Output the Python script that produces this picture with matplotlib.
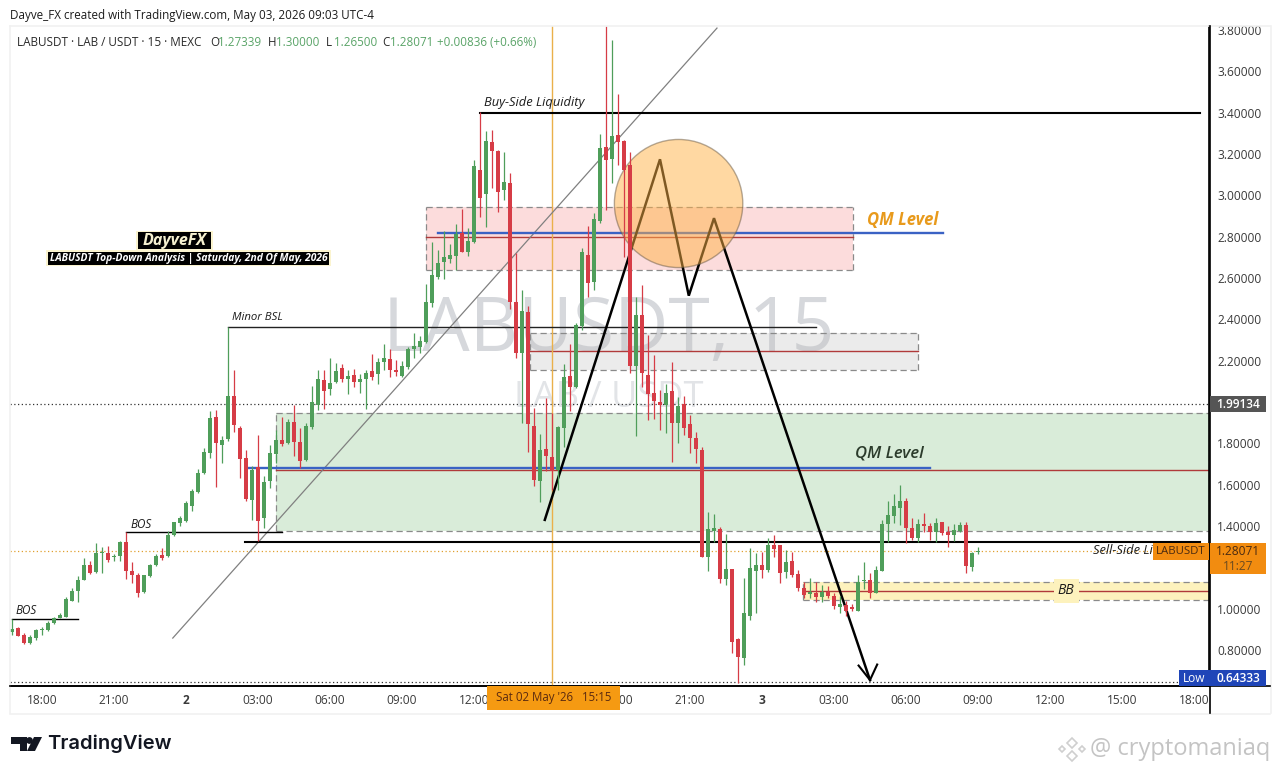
import matplotlib
matplotlib.use('Agg')
import matplotlib.pyplot as plt
from matplotlib.patches import Rectangle, Ellipse, Polygon, Circle

plt.rcParams['font.family'] = ['Open Sans', 'DejaVu Sans']

W, H = 1281, 774
GREEN = '#4f9e5a'
RED = '#d63c46'

# 15 minute bars, bar 0 is 18:00 on May 1
first_bar = -5
opens = [0.889, 0.905, 0.874, 0.832, 0.858, 0.895, 0.895, 0.929, 0.956, 0.961,
         1.039, 1.087, 1.140, 1.211, 1.176, 1.268, 1.271, 1.248, 1.253, 1.321,
         1.184, 1.164, 1.079, 1.160, 1.213, 1.261, 1.253, 1.355, 1.416, 1.426,
         1.495, 1.563, 1.655, 1.756, 1.929, 1.793, 1.822, 2.031, 1.876, 1.731,
         1.524, 1.685, 1.437, 1.619, 1.750, 1.818, 1.802, 1.905, 1.808, 1.719,
         1.881, 1.987, 2.108, 2.065, 2.095, 2.165, 2.110, 2.132, 2.095, 2.111,
         2.152, 2.136, 2.192, 2.208, 2.156, 2.127, 2.169, 2.256, 2.269, 2.292,
         2.481, 2.603, 2.676, 2.694, 2.705, 2.818, 2.727, 2.773, 3.124, 3.008,
         3.260, 3.216, 3.027, 3.060, 2.486, 2.239, 2.437, 1.886, 1.619, 1.774,
         1.736, 1.673, 1.876, 2.127, 2.074, 2.369, 2.713, 2.582, 2.878, 3.236,
         3.178, 3.294, 3.265, 3.149, 2.176, 2.423, 2.132, 2.045, 2.002, 1.987,
         2.055, 1.900, 1.992, 1.895, 1.827, 1.769, 1.252, 1.377, 1.387, 1.145,
         1.194, 0.855, 0.763, 0.966, 1.184, 1.213, 1.189, 1.310, 1.310, 1.179,
         1.232, 1.169, 1.102, 1.073, 1.077, 1.058, 1.082, 1.063, 1.010, 1.019,
         1.005, 0.990, 1.135, 1.140, 1.077, 1.184, 1.411, 1.450, 1.489, 1.523,
         1.392, 1.344, 1.411, 1.402, 1.373, 1.421, 1.373, 1.358, 1.377, 1.406,
         1.203, 1.273]
highs = [0.950, 0.914, 0.882, 0.874, 0.901, 0.911, 0.939, 0.960, 0.979, 1.056,
         1.100, 1.156, 1.245, 1.229, 1.318, 1.301, 1.305, 1.266, 1.326, 1.369,
         1.226, 1.172, 1.164, 1.218, 1.266, 1.293, 1.374, 1.422, 1.450, 1.519,
         1.579, 1.676, 1.777, 1.955, 1.963, 1.834, 2.363, 2.154, 1.882, 1.769,
         1.692, 1.842, 1.640, 1.790, 1.863, 1.926, 1.918, 1.987, 1.874, 1.898,
         2.076, 2.156, 2.156, 2.213, 2.189, 2.185, 2.156, 2.160, 2.137, 2.156,
         2.234, 2.213, 2.282, 2.256, 2.205, 2.197, 2.269, 2.334, 2.318, 2.573,
         2.776, 2.737, 2.826, 2.765, 2.863, 2.934, 2.842, 3.173, 3.406, 3.310,
         3.318, 3.220, 3.210, 3.108, 2.723, 2.544, 2.466, 1.973, 1.847, 2.021,
         1.948, 1.886, 2.186, 2.282, 2.384, 2.747, 2.853, 2.916, 3.299, 3.821,
         3.753, 3.492, 3.270, 3.211, 2.510, 2.568, 2.326, 2.229, 2.060, 2.089,
         2.195, 2.026, 2.031, 1.939, 1.857, 1.784, 1.469, 1.460, 1.397, 1.363,
         1.194, 0.860, 1.150, 1.295, 1.271, 1.276, 1.344, 1.358, 1.310, 1.286,
         1.276, 1.189, 1.131, 1.150, 1.131, 1.116, 1.111, 1.077, 1.063, 1.039,
         1.024, 1.165, 1.227, 1.174, 1.208, 1.431, 1.523, 1.556, 1.600, 1.537,
         1.440, 1.436, 1.465, 1.416, 1.440, 1.421, 1.402, 1.411, 1.421, 1.421,
         1.276, 1.300]
lows = [0.872, 0.866, 0.829, 0.829, 0.850, 0.874, 0.890, 0.926, 0.953, 0.960,
        1.035, 1.031, 1.137, 1.169, 1.172, 1.172, 1.227, 1.229, 1.229, 1.145,
        1.124, 1.056, 1.076, 1.153, 1.208, 1.237, 1.250, 1.350, 1.398, 1.422,
        1.471, 1.560, 1.652, 1.729, 1.589, 1.705, 1.810, 1.853, 1.635, 1.519,
        1.431, 1.326, 1.393, 1.584, 1.705, 1.789, 1.798, 1.740, 1.679, 1.716,
        1.871, 1.960, 1.966, 2.035, 2.092, 2.095, 2.040, 2.073, 2.044, 1.966,
        2.108, 2.089, 2.153, 2.121, 2.124, 2.121, 2.160, 2.215, 2.237, 2.285,
        2.461, 2.597, 2.597, 2.673, 2.640, 2.724, 2.705, 2.769, 2.895, 2.845,
        3.035, 2.919, 2.979, 2.452, 2.215, 1.900, 1.760, 1.595, 1.518, 1.668,
        1.576, 1.576, 1.784, 1.958, 2.069, 2.350, 2.510, 2.544, 2.868, 2.931,
        3.061, 3.149, 2.703, 2.142, 1.837, 2.074, 1.915, 1.919, 1.866, 1.852,
        1.711, 1.803, 1.842, 1.755, 1.706, 1.252, 1.184, 1.324, 1.126, 1.116,
        0.787, 0.642, 0.729, 0.947, 0.981, 1.150, 1.179, 1.252, 1.126, 1.150,
        1.155, 1.087, 1.053, 1.053, 1.034, 1.034, 1.053, 1.000, 0.981, 0.966,
        0.990, 0.990, 1.097, 1.053, 1.077, 1.184, 1.324, 1.416, 1.406, 1.319,
        1.334, 1.324, 1.373, 1.334, 1.324, 1.358, 1.300, 1.329, 1.373, 1.174,
        1.184, 1.265]
closes = [0.902, 0.869, 0.832, 0.863, 0.895, 0.900, 0.930, 0.955, 0.969, 1.048,
          1.087, 1.140, 1.213, 1.172, 1.269, 1.272, 1.235, 1.253, 1.321, 1.181,
          1.161, 1.076, 1.161, 1.210, 1.256, 1.247, 1.358, 1.419, 1.437, 1.510,
          1.568, 1.658, 1.758, 1.924, 1.800, 1.818, 2.031, 1.887, 1.727, 1.531,
          1.672, 1.426, 1.614, 1.753, 1.818, 1.798, 1.905, 1.808, 1.716, 1.885,
          2.000, 2.113, 2.056, 2.092, 2.152, 2.113, 2.126, 2.095, 2.113, 2.140,
          2.123, 2.195, 2.214, 2.153, 2.144, 2.174, 2.258, 2.273, 2.294, 2.486,
          2.616, 2.674, 2.702, 2.713, 2.815, 2.727, 2.779, 3.144, 2.990, 3.265,
          3.213, 3.019, 3.066, 2.486, 2.239, 2.442, 1.895, 1.624, 1.769, 1.740,
          1.668, 1.881, 2.123, 2.074, 2.374, 2.728, 2.578, 2.887, 3.231, 3.173,
          3.289, 3.260, 3.124, 2.176, 2.423, 2.142, 2.040, 2.007, 1.987, 2.045,
          1.900, 1.982, 1.876, 1.827, 1.774, 1.252, 1.387, 1.392, 1.145, 1.194,
          0.840, 0.768, 0.981, 1.198, 1.213, 1.189, 1.310, 1.290, 1.174, 1.227,
          1.165, 1.102, 1.068, 1.077, 1.058, 1.082, 1.063, 1.015, 1.024, 0.990,
          1.000, 1.131, 1.140, 1.077, 1.189, 1.411, 1.455, 1.498, 1.523, 1.392,
          1.344, 1.411, 1.402, 1.373, 1.416, 1.368, 1.358, 1.382, 1.406, 1.208,
          1.271, 1.281]

# 2.0 and 1.2 sit behind the price tags in the original, so they are left out
price_ticks = [3.8, 3.6, 3.4, 3.2, 3.0, 2.8, 2.6, 2.4, 2.2, 1.8, 1.6, 1.4, 1.0, 0.8]
time_ticks = [0, 12, 24, 36, 48, 60, 72, 96, 108, 120, 132, 144, 156, 168, 180, 192]
time_labels = ['18:00', '21:00', '2', '03:00', '06:00', '09:00', '12:00', '18:00',
               '21:00', '3', '03:00', '06:00', '09:00', '12:00', '15:00', '18:00']

last_price = 1.28071
marker_price = 1.99134
low_price = 0.64333
crosshair_bar = 85

fig = plt.figure(figsize=(W / 100, H / 100), dpi=100, facecolor='white')
ax = fig.add_axes([10 / W, (H - 685.5) / H, 1199 / W, 659.5 / H])
ax.set_xlim(-5.33, 194.5)
ax.set_ylim(0.6285, 3.82)

for s in ['top', 'left']:
    ax.spines[s].set_visible(False)
ax.spines['right'].set_linewidth(1.2)
ax.spines['bottom'].set_linewidth(1.2)
ax.yaxis.tick_right()
ax.set_yticks(price_ticks)
ax.set_yticklabels(['%.5f' % p for p in price_ticks], fontsize=8.6, color='#3a3a3a')
ax.set_xticks(time_ticks)
ax.set_xticklabels(time_labels, fontsize=8.6, color='#3a3a3a')
for lab in ax.get_xticklabels():
    if lab.get_text() in ('2', '3'):
        lab.set_fontweight('bold')
ax.tick_params(axis='both', length=0, pad=6)


# watermark sits under everything
ax.text(94.5, 2.34, 'LABUSDT, 15', fontsize=54, fontweight='medium', color='#d6d8dc', ha='center', va='center', zorder=1)
ax.text(94.5, 2.02, 'LAB / USDT', fontsize=26, color='#e2e4e7', ha='center', va='center', zorder=1)


def zone(x0, x1, top, bottom, mid, fill, alpha=1.0):
    ax.add_patch(Rectangle((x0, bottom), x1 - x0, top - bottom, facecolor=fill, edgecolor='none',
                           alpha=alpha, zorder=2))
    ax.plot([x0, x1], [top, top], color='#8a8a8a', lw=0.9, ls=(0, (5, 3)), zorder=2.1)
    ax.plot([x0, x1], [bottom, bottom], color='#8a8a8a', lw=0.9, ls=(0, (5, 3)), zorder=2.1)
    ax.plot([x0, x0], [bottom, top], color='#8a8a8a', lw=0.9, ls=(0, (5, 3)), zorder=2.1)
    ax.plot([x1, x1], [bottom, top], color='#8a8a8a', lw=0.9, ls=(0, (5, 3)), zorder=2.1)
    ax.plot([x0, x1], [mid, mid], color='#b03a3a', lw=1.0, zorder=2.2)


zone(64, 135.2, 2.945, 2.640, 2.797, '#fcdcdc')
zone(81.3, 146, 2.335, 2.155, 2.245, '#bdbdbd', alpha=0.3)
zone(39, 194.5, 1.948, 1.375, 1.672, '#d9ecd9')
zone(126.8, 194.5, 1.130, 1.040, 1.086, '#fdf2bd')

# dotted levels
ax.plot([-5.33, 194.5], [marker_price] * 2, color='#333333', lw=0.9, ls=(0, (1, 2)), zorder=2.5)
ax.plot([-5.33, 194.5], [low_price] * 2, color='#333333', lw=0.9, ls=(0, (1, 2)), zorder=2.5)
ax.plot([-5.33, 194.5], [last_price] * 2, color='#e0a030', lw=0.9, ls=(0, (1, 2)), zorder=2.5)

ax.axvline(crosshair_bar, color='#eab04a', lw=1.0, zorder=2.6)

# trend line and structure lines
ax.plot([21.8, 112.5], [0.858, 3.81], color='#808080', lw=0.9, zorder=3)
ax.plot([73, 193], [3.40, 3.40], color='black', lw=1.5, zorder=3)
ax.plot([33.8, 193], [1.322, 1.322], color='black', lw=1.5, zorder=3)
ax.plot([31, 129], [2.363, 2.363], color='#222222', lw=1.0, zorder=3)
ax.plot([-5, 6], [0.950, 0.950], color='black', lw=1.0, zorder=3)
ax.plot([14, 40], [1.369, 1.369], color='black', lw=1.0, zorder=3)
ax.plot([66, 150.2], [2.82, 2.82], color='#3a62c4', lw=1.7, zorder=3)
ax.plot([34.5, 148], [1.682, 1.682], color='#3a62c4', lw=1.7, zorder=3)

# projected move
ax.plot([83.8, 103, 107.8, 112, 138], [1.430, 3.175, 2.515, 2.890, 0.655],
        color='black', lw=1.8, zorder=3, solid_joinstyle='miter')
ax.plot([136.1, 138, 139.2], [0.725, 0.655, 0.730], color='black', lw=1.5, zorder=3,
        solid_joinstyle='miter')

ax.add_patch(Ellipse((106.1, 2.961), 21.4, 0.62, facecolor='#ffb347', alpha=0.5,
                     edgecolor='#6a5a45', lw=1.0, zorder=4))

# candles
for k in range(len(opens)):
    x = first_bar + k
    o, h, l, c = opens[k], highs[k], lows[k], closes[k]
    col = GREEN if c >= o else RED
    ax.plot([x, x], [l, h], color=col, lw=0.9, zorder=5, solid_capstyle='butt')
    ax.add_patch(Rectangle((x - 0.4, min(o, c)), 0.8, max(abs(c - o), 0.006), facecolor=col,
                           edgecolor='none', zorder=5.1))

# drawing labels
note = dict(style='italic', color='#1c1c1c', zorder=6, va='center', ha='left', fontweight='medium')
ax.text(73.7, 3.452, 'Buy-Side Liquidity', fontsize=9.3, **note)
ax.text(31.7, 2.41, 'Minor BSL', fontsize=8.2, **note)
ax.text(-4.4, 0.993, 'BOS', fontsize=8.4, **note)
ax.text(14.7, 1.408, 'BOS', fontsize=8.4, **note)
ax.text(175.2, 1.281, 'Sell-Side Liquidity', fontsize=9.3, **note)
ax.text(170.7, 1.086, 'BB', fontsize=10, ha='center', va='center', style='italic', color='#1c1c1c', zorder=6,
        fontweight='medium', bbox=dict(facecolor='#fdf2bd', edgecolor='none', pad=3))
ax.text(137.5, 2.882, 'QM Level', fontsize=12, style='italic', fontweight='bold', color='#e89a1c',
        va='center', ha='left', zorder=6)
ax.text(135.5, 1.753, 'QM Level', fontsize=12, style='italic', fontweight='semibold', color='#2b3b2b',
        va='center', ha='left', zorder=6)

# everything below is chart furniture placed in picture pixels
over = fig.add_axes([0, 0, 1, 1], zorder=5)
over.set_xlim(0, W)
over.set_ylim(H, 0)
over.axis('off')
over.patch.set_alpha(0)


def tag(x0, y0, x1, y1, fill):
    over.add_patch(Rectangle((x0, y0), x1 - x0, y1 - y0, facecolor=fill, edgecolor='none', zorder=2))


over.plot([10, 1270], [685.5, 685.5], color='black', lw=1.2, zorder=1.5)
over.plot([1209.5, 1209.5], [26, 713], color='black', lw=1.2, zorder=1.5)
over.plot([10, 1270], [713.5, 713.5], color='#f1f1f1', lw=1.2, zorder=1)
over.plot([1271, 1271], [26, 713], color='#f1f1f1', lw=1.2, zorder=1)
over.plot([10, 10], [26, 713], color='#f1f1f1', lw=1.2, zorder=1)
over.plot([10, 1270], [26, 26], color='#f1f1f1', lw=1.2, zorder=1)

tag(1210, 396, 1266, 412, '#555555')
over.text(1238, 404, '1.99134', color='white', fontsize=8.6, ha='center', va='center', fontweight='semibold', zorder=3)
tag(1210, 543, 1266, 574, '#f28c10')
over.text(1238, 551.5, '1.28071', color='#4a2a10', fontsize=8.6, ha='center', va='center', zorder=3)
over.text(1238, 566, '11:27', color='#6a4a20', fontsize=8.6, ha='center', va='center', zorder=3)
tag(1153, 543, 1209, 560, '#f28c10')
over.text(1181, 551.5, 'LABUSDT', color='#4a2a10', fontsize=8.2, ha='center', va='center', zorder=3)
tag(1179, 670, 1266, 686, '#1f45b8')
over.text(1194, 678, 'Low', color='white', fontsize=8.6, ha='center', va='center', zorder=3)
over.text(1238, 678, '0.64333', color='white', fontsize=8.6, ha='center', va='center', fontweight='semibold', zorder=3)
tag(487, 686, 620, 710, '#f59a12')
over.text(553.5, 698, "Sat 02 May '26   15:15", color='#5a2a10', fontsize=8.3, ha='center', va='center', zorder=3)

over.text(10, 15, 'Dayve_FX created with TradingView.com, May 03, 2026 09:03 UTC-4', color='#1c1c1c',
          fontsize=8.4, ha='left', va='center')
over.text(17, 42, 'LABUSDT · LAB / USDT · 15 · MEXC', color='#2a2a2a', fontsize=8.5, ha='left', va='center', zorder=3)
for xp, lab, val in [(210, 'O', '1.27339'), (268, 'H', '1.30000'), (326, 'L', '1.26500'), (382, 'C', '1.28071')]:
    over.text(xp, 42, lab, color='#2a2a2a', fontsize=8.4, ha='left', va='center', zorder=3)
    over.text(xp + 8, 42, val, color='#5aa468', fontsize=8.4, ha='left', va='center', zorder=3)
over.text(437, 42, '+0.00836 (+0.66%)', color='#5aa468', fontsize=8.4, ha='left', va='center', zorder=3)

# title stamp
tag(136, 231, 213, 250, '#fbf4cf')
tag(138, 232, 211, 249, 'black')
over.text(174.5, 241, 'DayveFX', color='#f6f1d0', fontsize=11.5, style='italic', fontweight='bold',
          ha='center', va='center', zorder=3)
tag(46, 250, 331, 266, '#fbf4cf')
tag(48, 251.5, 329, 264.5, 'black')
over.text(188.5, 258, 'LABUSDT Top-Down Analysis | Saturday, 2nd Of May, 2026', color='white', fontsize=7.4,
          style='italic', fontweight='bold', ha='center', va='center', zorder=3)

# TradingView logo
over.add_patch(Polygon([(11, 737), (27, 737), (27, 751), (20, 751), (20, 744), (11, 744)], facecolor='#131722', zorder=3))
over.add_patch(Circle((29.5, 740.5), 3.4, facecolor='#131722', zorder=3))
over.add_patch(Polygon([(34, 737), (42, 737), (35, 751), (27, 751)], facecolor='#131722', zorder=3))
over.text(47, 744, 'TradingView', color='#131722', fontsize=14.5, fontweight='semibold',
          family=['Inter', 'DejaVu Sans'], ha='left', va='center', zorder=3)

# reposter mark
for cx, cy, r in [(1072, 743, 5), (1062, 749, 3), (1082, 749, 3), (1072, 756, 5)]:
    over.add_patch(Polygon([(cx, cy - r), (cx + r, cy), (cx, cy + r), (cx - r, cy)], facecolor='none',
                           edgecolor='#cfcfcf', lw=1.2, zorder=3))
over.text(1090, 749, '@ cryptomaniaq', color='#c4c4c4', fontsize=17, ha='left', va='center', zorder=3)

fig.savefig('out.png', dpi=100)
